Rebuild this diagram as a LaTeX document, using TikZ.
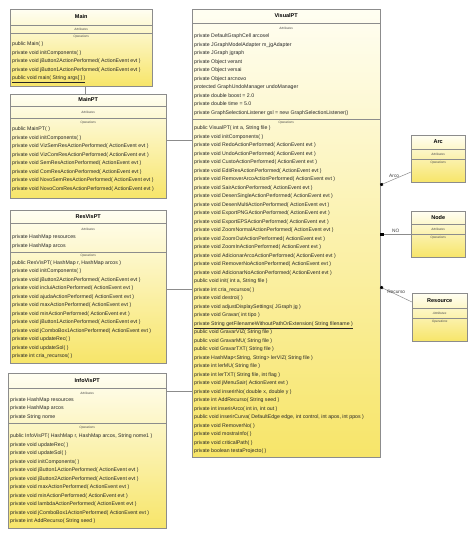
\documentclass[tikz,border=0pt]{standalone}
\usepackage{fontspec}
\setmainfont{Liberation Sans}
\usetikzlibrary{arrows.meta}
\definecolor{umlyellow}{RGB}{247,229,105}
\definecolor{umlcream}{RGB}{255,254,242}
\definecolor{umlline}{RGB}{140,140,140}
\tikzset{
  classbox/.style={draw=umlline, top color=umlcream, bottom color=umlyellow, inner sep=0pt, anchor=north west},
  divider/.style={umlline, line width=0.5pt},
  classname/.style={font=\fontsize{5.5}{6}\selectfont\bfseries, inner sep=0pt},
  seclabel/.style={font=\fontsize{3.2}{4}\selectfont\itshape, text=black!70, inner sep=0pt},
  members/.style={font=\fontsize{5.2}{8.5}\selectfont, align=left, anchor=north west, inner sep=0pt, text=black!85},
  assoc/.style={umlline, line width=0.5pt},
  rolelabel/.style={font=\fontsize{4.8}{5}\selectfont, text=black!75, inner sep=1pt}
}
\begin{document}
\begin{tikzpicture}[x=1pt,y=-1pt]
\useasboundingbox[fill=white] (0,0) rectangle (474,539);

% Main
\node[classbox, minimum width=142pt, minimum height=77pt] (main) at (10,9) {};
\draw[divider] (main.west |- 0,25) -- (main.east |- 0,25);
\draw[divider] (main.west |- 0,33) -- (main.east |- 0,33);
\node[classname] (maintitle) at (main.north |- 0,17) {Main};
\node[seclabel] (mainattr) at (main.north |- 0,29) {Attributes};
\node[seclabel] (mainoplabel) at (main.north |- 0,37) {Operations};
\node[members] (mainops) at (12,42) {public Main( )\\
private void initComponents( )\\
private void jButton2ActionPerformed( ActionEvent evt )\\
private void jButton1ActionPerformed( ActionEvent evt )\\
\underline{public void main( String args[ ] )}};

% MainPT
\node[classbox, minimum width=156pt, minimum height=104pt] (mainpt) at (10,94) {};
\draw[divider] (mainpt.west |- 0,106) -- (mainpt.east |- 0,106);
\draw[divider] (mainpt.west |- 0,118) -- (mainpt.east |- 0,118);
\node[classname] (mainpttitle) at (mainpt.north |- 0,100) {MainPT};
\node[seclabel] (mainptattr) at (mainpt.north |- 0,112) {Attributes};
\node[seclabel] (mainptoplabel) at (mainpt.north |- 0,122.5) {Operations};
\node[members] (mainptops) at (12,127) {public MainPT( )\\
private void initComponents( )\\
private void VizSemResActionPerformed( ActionEvent evt )\\
private void VizComResActionPerformed( ActionEvent evt )\\
private void SemResActionPerformed( ActionEvent evt )\\
private void ComResActionPerformed( ActionEvent evt )\\
private void NovoSemResActionPerformed( ActionEvent evt )\\
private void NovoComResActionPerformed( ActionEvent evt )};

% ResVisPT
\node[classbox, minimum width=156pt, minimum height=153pt] (resvis) at (10,210) {};
\draw[divider] (resvis.west |- 0,223) -- (resvis.east |- 0,223);
\draw[divider] (resvis.west |- 0,252) -- (resvis.east |- 0,252);
\node[classname] (resvistitle) at (resvis.north |- 0,216.5) {ResVisPT};
\node[seclabel] (resvisattr) at (resvis.north |- 0,229) {Attributes};
\node[members] (resvisattrs) at (12,235) {private HashMap resources\\
private HashMap arcos};
\node[seclabel] (resvisoplabel) at (resvis.north |- 0,256) {Operations};
\node[members] (resvisops) at (12,260.5) {public ResVisPT( HashMap r, HashMap arcos )\\
private void initComponents( )\\
private void jButton2ActionPerformed( ActionEvent evt )\\
private void incluiActionPerformed( ActionEvent evt )\\
private void ajudaActionPerformed( ActionEvent evt )\\
private void maxActionPerformed( ActionEvent evt )\\
private void minActionPerformed( ActionEvent evt )\\
private void jButton1ActionPerformed( ActionEvent evt )\\
private void jComboBox1ActionPerformed( ActionEvent evt )\\
private void updateRec( )\\
private void updateSol( )\\
private int cria\_recursos( )};

% InfoVisPT
\node[classbox, minimum width=158pt, minimum height=155pt] (infovis) at (8,373) {};
\draw[divider] (infovis.west |- 0,388) -- (infovis.east |- 0,388);
\draw[divider] (infovis.west |- 0,423) -- (infovis.east |- 0,423);
\node[classname] (infovistitle) at (infovis.north |- 0,380.5) {InfoVisPT};
\node[seclabel] (infovisattr) at (infovis.north |- 0,393) {Attributes};
\node[members] (infovisattrs) at (10,397.5) {private HashMap resources\\
private HashMap arcos\\
private String nome};
\node[seclabel] (infovisoplabel) at (infovis.north |- 0,428) {Operations};
\node[members] (infovisops) at (10,434) {public InfoVisPT( HashMap r, HashMap arcos, String nome1 )\\
private void updateRec( )\\
private void updateSol( )\\
private void initComponents( )\\
private void jButton1ActionPerformed( ActionEvent evt )\\
private void jButton2ActionPerformed( ActionEvent evt )\\
private void maxActionPerformed( ActionEvent evt )\\
private void minActionPerformed( ActionEvent evt )\\
private void lambdaActionPerformed( ActionEvent evt )\\
private void jComboBox1ActionPerformed( ActionEvent evt )\\
private int AddRecurso( String seed )};

% VisualPT
\node[classbox, minimum width=188pt, minimum height=448pt] (visual) at (192,9) {};
\draw[divider] (visual.west |- 0,23) -- (visual.east |- 0,23);
\draw[divider] (visual.west |- 0,119) -- (visual.east |- 0,119);
\node[classname] (visualtitle) at (visual.north |- 0,16) {VisualPT};
\node[seclabel] (visualattr) at (visual.north |- 0,28.5) {Attributes};
\node[members] (visualattrs) at (194,34) {private DefaultGraphCell arcosel\\
private JGraphModelAdapter m\_jgAdapter\\
private JGraph jgraph\\
private Object verant\\
private Object versai\\
private Object arcnovo\\
protected GraphUndoManager undoManager\\
private double boost = 2.0\\
private double time = 5.0\\
private GraphSelectionListener gsl = new GraphSelectionListener()};
\node[seclabel] (visualoplabel) at (visual.north |- 0,122.5) {Operations};
\node[members] (visualops) at (194,126) {public VisualPT( int a, String file )\\
private void initComponents( )\\
private void RedoActionPerformed( ActionEvent evt )\\
private void UndoActionPerformed( ActionEvent evt )\\
private void CustoActionPerformed( ActionEvent evt )\\
private void EditResActionPerformed( ActionEvent evt )\\
private void RemoverArcoActionPerformed( ActionEvent evt )\\
private void SairActionPerformed( ActionEvent evt )\\
private void DesenSingleActionPerformed( ActionEvent evt )\\
private void DesenMultiActionPerformed( ActionEvent evt )\\
private void ExportPNGActionPerformed( ActionEvent evt )\\
private void ExportEPSActionPerformed( ActionEvent evt )\\
private void ZoomNormalActionPerformed( ActionEvent evt )\\
private void ZoomOutActionPerformed( ActionEvent evt )\\
private void ZoomInActionPerformed( ActionEvent evt )\\
private void AdicionarArcoActionPerformed( ActionEvent evt )\\
private void RemoverNoActionPerformed( ActionEvent evt )\\
private void AdicionarNoActionPerformed( ActionEvent evt )\\
public void init( int a, String file )\\
private int cria\_recursos( )\\
private void destroi( )\\
private void adjustDisplaySettings( JGraph jg )\\
private void Gravar( int tipo )\\
\underline{private String getFilenameWithoutPathOrExtension( String filename )}\\
public void GravarVIZ( String file )\\
public void GravarMU( String file )\\
public void GravarTXT( String file )\\
private HashMap<String, String> lerVIZ( String file )\\
private int lerMU( String file )\\
private int lerTXT( String file, int flag )\\
private void jMenuSair( ActionEvent evt )\\
private void inserirNo( double x, double y )\\
private int AddRecurso( String seed )\\
private int inserirArco( int in, int out )\\
public void inserirCurva( DefaultEdge edge, int control, int apos, int ppos )\\
private void RemoverNo( )\\
private void mostraInfo( )\\
private void criticalPath( )\\
private boolean testaProjecto( )};

% Arc, Node, Resource
\node[classbox, minimum width=54pt, minimum height=47pt] (arc) at (411,135) {};
\draw[divider] (arc.west |- 0,149) -- (arc.east |- 0,149);
\draw[divider] (arc.west |- 0,159) -- (arc.east |- 0,159);
\node[classname] (arctitle) at (arc.north |- 0,142) {Arc};
\node[seclabel] (arcattr) at (arc.north |- 0,154) {Attributes};
\node[seclabel] (arcoplabel) at (arc.north |- 0,163) {Operations};

\node[classbox, minimum width=54pt, minimum height=46pt] (node) at (411,211) {};
\draw[divider] (node.west |- 0,224) -- (node.east |- 0,224);
\draw[divider] (node.west |- 0,234) -- (node.east |- 0,234);
\node[classname] (nodetitle) at (node.north |- 0,217.5) {Node};
\node[seclabel] (nodeattr) at (node.north |- 0,229) {Attributes};
\node[seclabel] (nodeoplabel) at (node.north |- 0,238) {Operations};

\node[classbox, minimum width=55pt, minimum height=48pt] (resource) at (412,293) {};
\draw[divider] (resource.west |- 0,308) -- (resource.east |- 0,308);
\draw[divider] (resource.west |- 0,318) -- (resource.east |- 0,318);
\node[classname] (resourcetitle) at (resource.north |- 0,300.5) {Resource};
\node[seclabel] (resourceattr) at (resource.north |- 0,313) {Attributes};
\node[seclabel] (resourceoplabel) at (resource.north |- 0,322) {Operations};

% connectors
\draw[assoc] (main.south -| 85,0) -- (mainpt.north -| 85,0);
\draw[assoc] (mainpt.east |- 0,140) -- (visual.west |- 0,140);
\draw[assoc] (resvis.east |- 0,289) -- (visual.west |- 0,289);
\draw[assoc] (infovis.east |- 0,391) -- (visual.west |- 0,391);
\draw[assoc, {Square[length=2.6pt,width=2.6pt,black]}-] (visual.east |- 0,185) -- (arc.west |- 0,172)
  node[rolelabel, pos=0.45, above] (arcrole) {Arco};
\draw[assoc, {Square[length=2.6pt,width=2.6pt,black]}-] (visual.east |- 0,234) -- (node.west |- 0,234)
  node[rolelabel, pos=0.5, above] (noderole) {NO};
\draw[assoc, {Square[length=2.6pt,width=2.6pt,black]}-] (visual.east |- 0,287) -- (resource.west |- 0,302)
  node[rolelabel, pos=0.5, above] (resourcerole) {Recurso};
\end{tikzpicture}
\end{document}
